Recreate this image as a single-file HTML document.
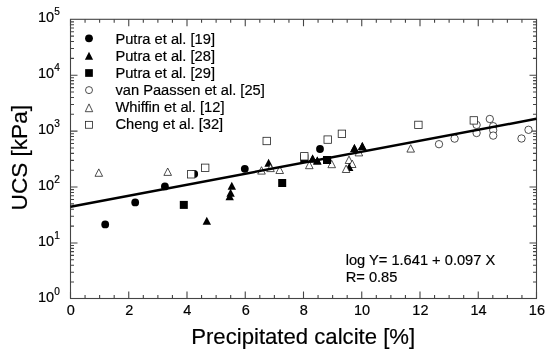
<!DOCTYPE html><html><head><meta charset="utf-8"><style>html,body{margin:0;padding:0;background:#fff}svg{display:block}text{font-family:"Liberation Sans",Arial,sans-serif;fill:#000;stroke:#000;stroke-width:0.18px}</style></head><body>
<svg width="550" height="356" viewBox="0 0 550 356">
<rect width="550" height="356" fill="#fff"/>
<g stroke="#444" stroke-width="1.1" fill="none" shape-rendering="auto">
<rect x="70.5" y="19.3" width="466.0" height="279.2"/>
<path d="M70.50 298.5v-7M70.50 19.3v7M85.06 298.5v-3.5M85.06 19.3v3.5M99.62 298.5v-3.5M99.62 19.3v3.5M114.19 298.5v-3.5M114.19 19.3v3.5M128.75 298.5v-7M128.75 19.3v7M143.31 298.5v-3.5M143.31 19.3v3.5M157.88 298.5v-3.5M157.88 19.3v3.5M172.44 298.5v-3.5M172.44 19.3v3.5M187.00 298.5v-7M187.00 19.3v7M201.56 298.5v-3.5M201.56 19.3v3.5M216.12 298.5v-3.5M216.12 19.3v3.5M230.69 298.5v-3.5M230.69 19.3v3.5M245.25 298.5v-7M245.25 19.3v7M259.81 298.5v-3.5M259.81 19.3v3.5M274.38 298.5v-3.5M274.38 19.3v3.5M288.94 298.5v-3.5M288.94 19.3v3.5M303.50 298.5v-7M303.50 19.3v7M318.06 298.5v-3.5M318.06 19.3v3.5M332.62 298.5v-3.5M332.62 19.3v3.5M347.19 298.5v-3.5M347.19 19.3v3.5M361.75 298.5v-7M361.75 19.3v7M376.31 298.5v-3.5M376.31 19.3v3.5M390.88 298.5v-3.5M390.88 19.3v3.5M405.44 298.5v-3.5M405.44 19.3v3.5M420.00 298.5v-7M420.00 19.3v7M434.56 298.5v-3.5M434.56 19.3v3.5M449.12 298.5v-3.5M449.12 19.3v3.5M463.69 298.5v-3.5M463.69 19.3v3.5M478.25 298.5v-7M478.25 19.3v7M492.81 298.5v-3.5M492.81 19.3v3.5M507.38 298.5v-3.5M507.38 19.3v3.5M521.94 298.5v-3.5M521.94 19.3v3.5M536.50 298.5v-7M536.50 19.3v7M70.5 282.07h3.5M536.5 282.07h-3.5M70.5 272.22h3.5M536.5 272.22h-3.5M70.5 265.23h3.5M536.5 265.23h-3.5M70.5 259.81h3.5M536.5 259.81h-3.5M70.5 255.39h3.5M536.5 255.39h-3.5M70.5 251.64h3.5M536.5 251.64h-3.5M70.5 248.40h3.5M536.5 248.40h-3.5M70.5 245.54h3.5M536.5 245.54h-3.5M70.5 242.98h7M536.5 242.98h-7M70.5 226.15h3.5M536.5 226.15h-3.5M70.5 216.30h3.5M536.5 216.30h-3.5M70.5 209.31h3.5M536.5 209.31h-3.5M70.5 203.89h3.5M536.5 203.89h-3.5M70.5 199.47h3.5M536.5 199.47h-3.5M70.5 195.72h3.5M536.5 195.72h-3.5M70.5 192.48h3.5M536.5 192.48h-3.5M70.5 189.62h3.5M536.5 189.62h-3.5M70.5 187.06h7M536.5 187.06h-7M70.5 170.23h3.5M536.5 170.23h-3.5M70.5 160.38h3.5M536.5 160.38h-3.5M70.5 153.39h3.5M536.5 153.39h-3.5M70.5 147.97h3.5M536.5 147.97h-3.5M70.5 143.55h3.5M536.5 143.55h-3.5M70.5 139.80h3.5M536.5 139.80h-3.5M70.5 136.56h3.5M536.5 136.56h-3.5M70.5 133.70h3.5M536.5 133.70h-3.5M70.5 131.14h7M536.5 131.14h-7M70.5 114.31h3.5M536.5 114.31h-3.5M70.5 104.46h3.5M536.5 104.46h-3.5M70.5 97.47h3.5M536.5 97.47h-3.5M70.5 92.05h3.5M536.5 92.05h-3.5M70.5 87.63h3.5M536.5 87.63h-3.5M70.5 83.88h3.5M536.5 83.88h-3.5M70.5 80.64h3.5M536.5 80.64h-3.5M70.5 77.78h3.5M536.5 77.78h-3.5M70.5 75.22h7M536.5 75.22h-7M70.5 58.39h3.5M536.5 58.39h-3.5M70.5 48.54h3.5M536.5 48.54h-3.5M70.5 41.55h3.5M536.5 41.55h-3.5M70.5 36.13h3.5M536.5 36.13h-3.5M70.5 31.71h3.5M536.5 31.71h-3.5M70.5 27.96h3.5M536.5 27.96h-3.5M70.5 24.72h3.5M536.5 24.72h-3.5M70.5 21.86h3.5M536.5 21.86h-3.5"/>
</g>
<text x="70.9" y="315" font-size="14.5" text-anchor="middle">0</text>
<text x="129.2" y="315" font-size="14.5" text-anchor="middle">2</text>
<text x="187.4" y="315" font-size="14.5" text-anchor="middle">4</text>
<text x="245.7" y="315" font-size="14.5" text-anchor="middle">6</text>
<text x="303.9" y="315" font-size="14.5" text-anchor="middle">8</text>
<text x="362.1" y="315" font-size="14.5" text-anchor="middle">10</text>
<text x="420.4" y="315" font-size="14.5" text-anchor="middle">12</text>
<text x="478.6" y="315" font-size="14.5" text-anchor="middle">14</text>
<text x="536.9" y="315" font-size="14.5" text-anchor="middle">16</text>
<text x="59.8" y="302" font-size="14.5" text-anchor="end">10<tspan dx="0.1" dy="-7" font-size="10.1">0</tspan></text>
<text x="59.8" y="246" font-size="14.5" text-anchor="end">10<tspan dx="0.1" dy="-7" font-size="10.1">1</tspan></text>
<text x="59.8" y="190" font-size="14.5" text-anchor="end">10<tspan dx="0.1" dy="-7" font-size="10.1">2</tspan></text>
<text x="59.8" y="134" font-size="14.5" text-anchor="end">10<tspan dx="0.1" dy="-7" font-size="10.1">3</tspan></text>
<text x="59.8" y="78" font-size="14.5" text-anchor="end">10<tspan dx="0.1" dy="-7" font-size="10.1">4</tspan></text>
<text x="59.8" y="22" font-size="14.5" text-anchor="end">10<tspan dx="0.1" dy="-7" font-size="10.1">5</tspan></text>
<text x="303.2" y="344" font-size="22.15" text-anchor="middle">Precipitated calcite [%]</text>
<text transform="translate(26.6,157.7) rotate(-90)" font-size="22.6" text-anchor="middle">UCS [kPa]</text>
<g>
<circle cx="105.2" cy="224.4" r="3.9" fill="#000"/>
<circle cx="135.2" cy="202.4" r="3.9" fill="#000"/>
<circle cx="164.9" cy="186.4" r="3.9" fill="#000"/>
<circle cx="194.2" cy="173.9" r="3.9" fill="#000"/>
<circle cx="244.8" cy="168.8" r="3.9" fill="#000"/>
<circle cx="320.0" cy="149.0" r="3.9" fill="#000"/>
<path d="M206.8 216.79999999999998L211.0 224.79999999999998H202.60000000000002Z" fill="#000" />
<path d="M231.8 181.7L236.0 189.7H227.60000000000002Z" fill="#000" />
<path d="M230.6 188.79999999999998L234.79999999999998 196.79999999999998H226.4Z" fill="#000" />
<path d="M229.7 192.2L233.89999999999998 200.2H225.5Z" fill="#000" />
<path d="M268.6 158.79999999999998L272.8 166.79999999999998H264.40000000000003Z" fill="#000" />
<path d="M312.6 154.6L316.8 162.6H308.40000000000003Z" fill="#000" />
<path d="M317.3 156.39999999999998L321.5 164.39999999999998H313.1Z" fill="#000" />
<path d="M354.4 143.89999999999998L358.59999999999997 151.89999999999998H350.2Z" fill="#000" />
<path d="M362.3 142.1L366.5 150.1H358.1Z" fill="#000" />
<rect x="179.8" y="200.9" width="8.0" height="8.0" fill="#000"/>
<rect x="278.2" y="179.0" width="8.0" height="8.0" fill="#000"/>
<rect x="323.1" y="156.0" width="8.0" height="8.0" fill="#000"/>
<rect x="300.3" y="154.4" width="8.0" height="8.0" fill="#000"/>
<circle cx="439.0" cy="144.2" r="3.7" fill="#fff" stroke="#222" stroke-width="0.8"/>
<circle cx="454.6" cy="138.6" r="3.7" fill="#fff" stroke="#222" stroke-width="0.8"/>
<circle cx="476.6" cy="124.9" r="3.7" fill="#fff" stroke="#222" stroke-width="0.8"/>
<circle cx="476.6" cy="133.0" r="3.7" fill="#fff" stroke="#222" stroke-width="0.8"/>
<circle cx="489.8" cy="119.0" r="3.7" fill="#fff" stroke="#222" stroke-width="0.8"/>
<circle cx="493.2" cy="126.2" r="3.7" fill="#fff" stroke="#222" stroke-width="0.8"/>
<circle cx="493.2" cy="130.2" r="3.7" fill="#fff" stroke="#222" stroke-width="0.8"/>
<circle cx="493.2" cy="135.6" r="3.7" fill="#fff" stroke="#222" stroke-width="0.8"/>
<circle cx="521.5" cy="138.5" r="3.7" fill="#fff" stroke="#222" stroke-width="0.8"/>
<circle cx="528.5" cy="129.8" r="3.7" fill="#fff" stroke="#222" stroke-width="0.8"/>
<path d="M98.8 168.9L102.6 176.29999999999998H95.0Z" fill="#fff" stroke="#222" stroke-width="0.8"/>
<path d="M167.7 168.0L171.5 175.39999999999998H163.89999999999998Z" fill="#fff" stroke="#222" stroke-width="0.8"/>
<path d="M261.5 166.70000000000002L265.3 174.1H257.7Z" fill="#fff" stroke="#222" stroke-width="0.8"/>
<path d="M270.5 164.20000000000002L274.3 171.6H266.7Z" fill="#fff" stroke="#222" stroke-width="0.8"/>
<path d="M279.7 166.10000000000002L283.5 173.5H275.9Z" fill="#fff" stroke="#222" stroke-width="0.8"/>
<path d="M309.3 161.3L313.1 168.7H305.5Z" fill="#fff" stroke="#222" stroke-width="0.8"/>
<path d="M331.7 160.3L335.5 167.7H327.9Z" fill="#fff" stroke="#222" stroke-width="0.8"/>
<path d="M358.9 148.5L362.7 155.89999999999998H355.09999999999997Z" fill="#fff" stroke="#222" stroke-width="0.8"/>
<path d="M410.7 144.70000000000002L414.5 152.1H406.9Z" fill="#fff" stroke="#222" stroke-width="0.8"/>
<rect x="187.4" y="170.60000000000002" width="7.4" height="7.4" fill="#fff" stroke="#222" stroke-width="0.8"/>
<rect x="201.5" y="164.10000000000002" width="7.4" height="7.4" fill="#fff" stroke="#222" stroke-width="0.8"/>
<rect x="263.0" y="137.3" width="7.4" height="7.4" fill="#fff" stroke="#222" stroke-width="0.8"/>
<rect x="300.6" y="152.60000000000002" width="7.4" height="7.4" fill="#fff" stroke="#222" stroke-width="0.8"/>
<rect x="324.0" y="135.9" width="7.4" height="7.4" fill="#fff" stroke="#222" stroke-width="0.8"/>
<rect x="338.2" y="130.10000000000002" width="7.4" height="7.4" fill="#fff" stroke="#222" stroke-width="0.8"/>
<rect x="414.7" y="121.2" width="7.4" height="7.4" fill="#fff" stroke="#222" stroke-width="0.8"/>
<rect x="470.1" y="116.7" width="7.4" height="7.4" fill="#fff" stroke="#222" stroke-width="0.8"/>
<path d="M349.0 156.10000000000002L352.8 163.5H345.2Z" fill="#fff" stroke="#222" stroke-width="0.8"/>
<path d="M352.2 160.10000000000002L356.0 167.5H348.4Z" fill="#fff" stroke="#222" stroke-width="0.8"/>
<path d="M349.2 163.0L353.4 171.0H345.0Z" fill="#000" />
<path d="M346.1 165.10000000000002L349.90000000000003 172.5H342.3Z" fill="#fff" stroke="#222" stroke-width="0.8"/>
<path d="M354.4 143.89999999999998L358.59999999999997 151.89999999999998H350.2Z" fill="#000" />
<path d="M362.3 142.1L366.5 150.1H358.1Z" fill="#000" />
<path d="M312.6 154.6L316.8 162.6H308.40000000000003Z" fill="#000" />
<path d="M317.3 156.39999999999998L321.5 164.39999999999998H313.1Z" fill="#000" />
<rect x="323.1" y="156.0" width="8.0" height="8.0" fill="#000"/>
</g>
<line x1="70.5" y1="206.70" x2="536.5" y2="118.80" stroke="#000" stroke-width="2.4"/>
<circle cx="89.0" cy="38.3" r="3.9" fill="#000"/>
<path d="M89.0 51.8L93.1 59.8H84.9Z" fill="#000" />
<rect x="85.15" y="69.15" width="7.7" height="7.7" fill="#000"/>
<circle cx="89.0" cy="90.1" r="3.5" fill="#fff" stroke="#222" stroke-width="0.8"/>
<path d="M89.0 103.89999999999999L92.7 111.7H85.3Z" fill="#fff" stroke="#222" stroke-width="0.8"/>
<rect x="85.55" y="121.35" width="6.9" height="6.9" fill="#fff" stroke="#222" stroke-width="0.8"/>
<text x="115.4" y="44" font-size="14.7">Putra et al. [19]</text>
<text x="115.4" y="61" font-size="14.7">Putra et al. [28]</text>
<text x="115.4" y="78" font-size="14.7">Putra et al. [29]</text>
<text x="115.4" y="95" font-size="14.7">van Paassen et al. [25]</text>
<text x="115.4" y="112" font-size="14.7">Whiffin et al. [12]</text>
<text x="115.4" y="129" font-size="14.7">Cheng et al. [32]</text>
<text x="345.7" y="265" font-size="14.65">log Y= 1.641 + 0.097 X</text>
<text x="345.7" y="282" font-size="14.65">R= 0.85</text>
</svg></body></html>
